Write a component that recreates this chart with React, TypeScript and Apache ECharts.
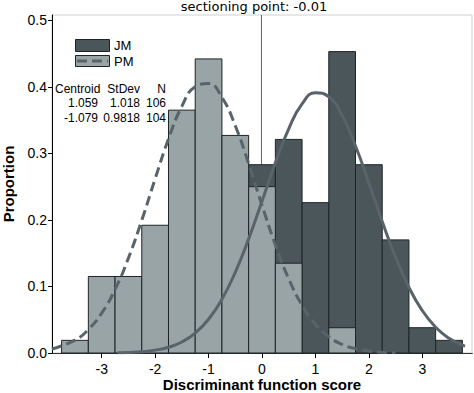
import React, { useEffect, useRef } from "react";
import * as echarts from "echarts";

// Histogram bins (width 0.5), proportions per group
const binCenters = [-3.5, -3, -2.5, -2, -1.5, -1, -0.5, 0, 0.5, 1, 1.5, 2, 2.5, 3, 3.5];
const pmValues = [0.019, 0.115, 0.115, 0.192, 0.365, 0.442, 0.327, 0.25, 0.135, 0, 0.038, 0, 0, 0, 0];
const jmValues = [0, 0, 0, 0, 0, 0, 0, 0.283, 0.321, 0.226, 0.453, 0.283, 0.17, 0.038, 0.019];

// Fitted curves
const pmCurveX = [-3.93, -3.5, -3.25, -3, -2.75, -2.5, -2.25, -2, -1.75, -1.5, -1.25, -1, -0.75, -0.5, -0.25, 0, 0.25, 0.5, 0.75, 1, 1.25, 1.5, 1.75, 2, 2.25, 2.5];
const pmCurveY = [0.006, 0.0194, 0.0352, 0.0599, 0.0955, 0.1426, 0.1995, 0.2617, 0.3217, 0.3706, 0.4002, 0.405, 0.3841, 0.3415, 0.2845, 0.2221, 0.1626, 0.1115, 0.0717, 0.0432, 0.0244, 0.0129, 0.0064, 0.003, 0.0013, 0.0005];
const jmCurveX = [-2.7, -2.5, -2.25, -2, -1.75, -1.5, -1.25, -1, -0.75, -0.5, -0.25, 0, 0.25, 0.5, 0.75, 1, 1.25, 1.5, 1.75, 2, 2.25, 2.5, 2.75, 3, 3.25, 3.5, 3.75, 3.8];
const jmCurveY = [0.0004, 0.0009, 0.002, 0.0043, 0.0087, 0.0166, 0.0299, 0.0507, 0.0808, 0.1213, 0.1715, 0.2281, 0.2858, 0.337, 0.3743, 0.3912, 0.3851, 0.3568, 0.3112, 0.2556, 0.1977, 0.1439, 0.0986, 0.0636, 0.0387, 0.0221, 0.0119, 0.0104];

const xTicks = [-3, -2, -1, 0, 1, 2, 3];
const yTicks = [0, 0.1, 0.2, 0.3, 0.4, 0.5];
const sectioningPoint = -0.01;
const titleText = "sectioning point: -0.01";
const tableHeader = ["Centroid", "StDev", "N"];
const tableRows = [
  ["1.059", "1.018", "106"],
  ["-1.079", "0.9818", "104"],
];

const LIGHT = "#98a4a5";
const DARK = "#4a565a";
const CURVE = "#58636a";
const EDGE = "#1e2426";
const FONT = "'Liberation Sans', Arial, sans-serif";
const TFONT = "'DejaVu Sans', Verdana, sans-serif";

export default function App() {
  const ref = useRef<HTMLDivElement>(null);
  useEffect(() => {
    document.body.style.margin = "0";
    if (!ref.current) return;
    const chart = echarts.init(ref.current, undefined, { renderer: "svg" });

    const barSeries = (name: string, values: number[], color: string, z: number) => ({
      type: "custom",
      name,
      z,
      data: binCenters.map((c, i) => [c, values[i]]),
      renderItem: (params: any, api: any) => {
        const c = api.value(0);
        const v = api.value(1);
        if (!v) return null;
        const p0 = api.coord([c - 0.25, v]);
        const p1 = api.coord([c + 0.25, 0]);
        return {
          type: "rect",
          shape: { x: p0[0], y: p0[1], width: p1[0] - p0[0], height: p1[1] - p0[1] },
          style: { fill: color, stroke: EDGE, lineWidth: 1 },
        };
      },
    });

    const txt = (text: string, x: number, y: number, align: string, size = 12, family = FONT) => ({
      type: "text", x, y,
      style: { text, fontSize: size, fontFamily: family, fill: "#000", textAlign: align, textVerticalAlign: "middle" },
    });

    const tableGraphics: any[] = [];
    const colRight = [98, 140, 166];
    tableGraphics.push(txt(tableHeader[0], 55, 89, "left"));
    tableGraphics.push(txt(tableHeader[1], colRight[1], 89, "right"));
    tableGraphics.push(txt(tableHeader[2], colRight[2], 89, "right"));
    tableRows.forEach((row, r) => {
      row.forEach((cell, c) => {
        tableGraphics.push(txt(cell, colRight[c], 103 + r * 15, "right"));
      });
    });

    chart.setOption({
      animation: false,
      backgroundColor: "#fff",
      grid: {
        left: 52, right: 2, top: 15, bottom: 40,
        outerBoundsMode: "none",
        containLabel: false,
        show: true, borderColor: "#cfcfcf", borderWidth: 1,
      },
      xAxis: [
        {
          type: "value",
          min: -3.93,
          max: 3.93,
          name: "Discriminant function score",
          nameLocation: "middle",
          nameGap: 24,
          nameMoveOverlap: false,
          nameTextStyle: { fontSize: 15, fontWeight: "bold", color: "#000", fontFamily: FONT },
          axisLine: { show: true, onZero: false, lineStyle: { color: "#000", width: 1 } },
          axisTick: { show: true, length: 5, customValues: xTicks, lineStyle: { color: "#000" } },
          axisLabel: { customValues: xTicks, fontSize: 14, color: "#000", fontFamily: FONT, margin: 9 },
          splitLine: { show: false },
        },
        {
          type: "value",
          position: "top",
          min: -3.93,
          max: 3.93,
          axisLine: { show: true, lineStyle: { color: "#333", width: 1 } },
          axisTick: { show: false },
          axisLabel: { show: false },
          splitLine: { show: false },
        },
      ],
      yAxis: {
        type: "value",
        min: 0,
        max: 0.508,
        name: "Proportion",
        nameLocation: "middle",
        nameGap: 36,
        nameMoveOverlap: false,
        nameTextStyle: { fontSize: 15, fontWeight: "bold", color: "#000", fontFamily: FONT },
        axisLine: { show: true, onZero: false, lineStyle: { color: "#000", width: 1 } },
        axisTick: { show: true, length: 4, customValues: yTicks, lineStyle: { color: "#000" } },
        axisLabel: {
          customValues: yTicks,
          fontSize: 14,
          color: "#000",
          fontFamily: FONT,
          margin: 5,
          formatter: (v: number) => v.toFixed(1),
        },
        splitLine: { show: false },
      },
      series: [
        {
          type: "line",
          z: 1,
          data: [[sectioningPoint, 0], [sectioningPoint, 0.508]],
          showSymbol: false,
          lineStyle: { color: "#666", width: 1 },
          silent: true,
        },
        barSeries("JM", jmValues, DARK, 2),
        barSeries("PM", pmValues, LIGHT, 3),
        {
          type: "line",
          name: "PM curve",
          z: 5,
          smooth: true,
          showSymbol: false,
          data: pmCurveX.map((x, i) => [x, pmCurveY[i]]),
          lineStyle: { color: CURVE, width: 3, type: [10, 5] },
        },
        {
          type: "line",
          name: "JM curve",
          z: 5,
          smooth: true,
          showSymbol: false,
          data: jmCurveX.map((x, i) => [x, jmCurveY[i]]),
          lineStyle: { color: CURVE, width: 3 },
        },
      ],
      graphic: [
        txt(titleText, 254, 6, "center", 13, TFONT),
        { type: "rect", shape: { x: 75.5, y: 39.5, width: 34, height: 12 }, style: { fill: DARK, stroke: EDGE, lineWidth: 1 } },
        { type: "rect", shape: { x: 75.5, y: 55.5, width: 34, height: 11 }, style: { fill: LIGHT, stroke: EDGE, lineWidth: 1 } },
        { type: "line", shape: { x1: 77, y1: 61, x2: 108, y2: 61 }, style: { stroke: CURVE, lineWidth: 3, lineDash: [10, 5] } },
        txt("JM", 114, 45.5, "left", 13),
        txt("PM", 114, 61, "left", 13),
        ...tableGraphics,
      ],
    });
    return () => chart.dispose();
  }, []);
  return <div ref={ref} style={{ width: 474, height: 393 }} />;
}
